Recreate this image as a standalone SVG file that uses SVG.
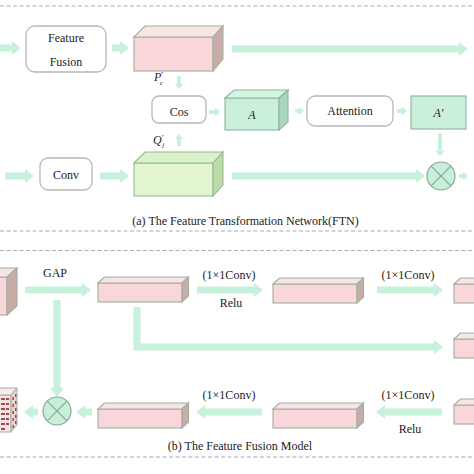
<svg xmlns="http://www.w3.org/2000/svg" xmlns:xlink="http://www.w3.org/1999/xlink" width="474" height="474" viewBox="0 0 474 474">
<style>
text{font-family:"Liberation Serif","Times New Roman",serif;font-size:12px;fill:#222}
.it{font-style:italic}
.dash{stroke:#9fb0b4;stroke-width:1.2;stroke-dasharray:4 2.5;fill:none}
.ar{stroke:#c6f1da;stroke-width:7;fill:none;marker-end:url(#ah)}
.ar2{stroke:#c6f1da;stroke-width:4;fill:none;marker-end:url(#ah2)}
.rb{fill:#fff;stroke:#b8b8b8;stroke-width:1.3}
.pf{fill:#f8d6d9;stroke:#9fb09f;stroke-width:1.1}
.pt{fill:#f7e4e4;stroke:#9fb09f;stroke-width:1.1}
.ps{fill:#c9aca8;stroke:#9fb09f;stroke-width:1.1}
.gf{fill:#e3f6d0;stroke:#97b897;stroke-width:1.1}
.gt{fill:#daf2c9;stroke:#97b897;stroke-width:1.1}
.gs{fill:#bbdca8;stroke:#97b897;stroke-width:1.1}
.mf{fill:#caf0db;stroke:#8fb59f;stroke-width:1.1}
.mt{fill:#d5f4e3;stroke:#8fb59f;stroke-width:1.1}
.ms{fill:#a9d7bc;stroke:#8fb59f;stroke-width:1.1}
.ox{fill:#c8efd9;stroke:#87a897;stroke-width:1.2}
.oxl{stroke:#87a897;stroke-width:1.2}
.dot{fill:#a4494b}
</style>
<defs>
<marker id="ah" markerUnits="userSpaceOnUse" markerWidth="9" markerHeight="14" refX="0" refY="7" orient="auto" viewBox="0 0 9 14"><path d="M0,0 L9,7 L0,14 z" fill="#c6f1da"/></marker>
<marker id="ah2" markerUnits="userSpaceOnUse" markerWidth="5" markerHeight="9" refX="0" refY="4.5" orient="auto" viewBox="0 0 5 9"><path d="M0,0 L5,4.5 L0,9 z" fill="#c6f1da"/></marker>
<g id="flatbox">
<rect class="pf" x="0" y="6" width="84" height="19"/>
<polygon class="pt" points="0,6 6.5,0 90.5,0 84,6"/>
<polygon class="ps" points="84,6 90.5,0 90.5,19 84,25"/>
</g>
</defs>

<!-- dashed separators -->
<g id="separators">
<line class="dash" x1="0" y1="6" x2="474" y2="6"/>
<line class="dash" x1="0" y1="231" x2="474" y2="231"/>
<line class="dash" x1="0" y1="250.5" x2="474" y2="250.5"/>
<line class="dash" x1="0" y1="457" x2="474" y2="457"/>
</g>

<!-- connectors -->
<g id="connectors">
<line class="ar" x1="0" y1="48" x2="12" y2="48"/>
<line class="ar" x1="112" y1="48" x2="120" y2="48"/>
<line class="ar" x1="232" y1="49" x2="459" y2="49"/>
<line class="ar" x1="5" y1="176" x2="25" y2="176"/>
<line class="ar" x1="100" y1="176" x2="120" y2="176"/>
<line class="ar" x1="232" y1="176" x2="416" y2="176"/>
<line class="ar2" x1="179" y1="76" x2="179" y2="84"/>
<line class="ar2" x1="179" y1="146" x2="179" y2="139"/>
<line class="ar2" x1="209" y1="112" x2="215" y2="112"/>
<line class="ar2" x1="295" y1="111" x2="299" y2="111"/>
<line class="ar2" x1="397" y1="111" x2="402" y2="111"/>
<line class="ar2" x1="440" y1="133" x2="440" y2="151"/>
<line class="ar2" x1="459" y1="176" x2="463" y2="176"/>
<!-- (b) -->
<line class="ar" x1="25" y1="290" x2="82" y2="290"/>
<line class="ar" x1="57" y1="300" x2="57" y2="388"/>
<line class="ar" x1="197" y1="290" x2="254" y2="290"/>
<line class="ar" x1="377" y1="290" x2="434" y2="290"/>
<polyline class="ar" points="137,307 137,347 434,347"/>
<line class="ar" x1="442" y1="412" x2="385" y2="412"/>
<line class="ar" x1="262" y1="412" x2="205" y2="412"/>
<line class="ar" x1="92" y1="412" x2="85" y2="412"/>
<line class="ar" x1="38" y1="412" x2="33" y2="412"/>
</g>

<!-- (a) nodes -->
<g id="feature-fusion">
<rect class="rb" x="26" y="26" width="80" height="46" rx="9"/>
<text x="66" y="42" text-anchor="middle">Feature</text>
<text x="66" y="65.5" text-anchor="middle">Fusion</text>
</g>
<g id="pc-cube">
<rect class="pf" x="134" y="37" width="79" height="34"/>
<polygon class="pt" points="134,37 145,26 223,26 213,37"/>
<polygon class="ps" points="213,37 223,26 223,59 213,71"/>
</g>
<g id="pc-label">
<text class="it" x="154" y="81">P<tspan font-style="normal" font-size="9" dy="-3">′</tspan><tspan font-size="7" dx="-3.5" dy="7">c</tspan></text>
</g>
<g id="cos">
<rect class="rb" x="152" y="96" width="54" height="27" rx="7"/>
<text x="179" y="116" text-anchor="middle">Cos</text>
</g>
<g id="a-cube">
<rect class="mf" x="225" y="98" width="54" height="32"/>
<polygon class="mt" points="225,98 234,90 288,90 279,98"/>
<polygon class="ms" points="279,98 288,90 288,122 279,130"/>
<text class="it" x="252" y="119" text-anchor="middle">A</text>
</g>
<g id="attention">
<rect class="rb" x="307" y="96" width="86" height="30" rx="8"/>
<text x="350" y="115" text-anchor="middle">Attention</text>
</g>
<g id="a-prime">
<rect class="mf" x="411" y="96" width="55" height="33"/>
<text class="it" x="438.5" y="117" text-anchor="middle">A′</text>
</g>
<g id="conv">
<rect class="rb" x="40" y="158" width="52" height="32" rx="8"/>
<text x="66" y="179" text-anchor="middle">Conv</text>
</g>
<g id="qj-cube">
<rect class="gf" x="134" y="163" width="79" height="33"/>
<polygon class="gt" points="134,163 145,152 223,152 213,163"/>
<polygon class="gs" points="213,163 223,152 223,185 213,196"/>
</g>
<g id="qj-label">
<text class="it" x="153" y="144">Q<tspan font-style="normal" font-size="9" dy="-3">′</tspan><tspan font-size="7" dx="-1.5" dy="6">j</tspan></text>
</g>
<g id="mult-a">
<circle class="ox" cx="441" cy="176" r="14"/>
<line class="oxl" x1="431.1" y1="166.1" x2="450.9" y2="185.9"/>
<line class="oxl" x1="450.9" y1="166.1" x2="431.1" y2="185.9"/>
</g>
<g id="caption-a">
<text x="245.5" y="225" text-anchor="middle">(a) The Feature Transformation Network(FTN)</text>
</g>

<!-- (b) nodes -->
<g id="input-cube">
<rect class="pf" x="-20" y="277" width="27" height="38"/>
<polygon class="pt" points="-20,277 -10,268 17,268 7,277"/>
<polygon class="ps" points="7,277 17,268 17,306 7,315"/>
</g>
<g id="gap-label"><text x="55" y="277" text-anchor="middle">GAP</text></g>
<g id="box1"><use xlink:href="#flatbox" x="98" y="277"/></g>
<g id="box2"><use xlink:href="#flatbox" x="273" y="278"/></g>
<g id="box3"><use xlink:href="#flatbox" x="454" y="278"/></g>
<g id="box4"><use xlink:href="#flatbox" x="454" y="333"/></g>
<g id="box5"><use xlink:href="#flatbox" x="454" y="399"/></g>
<g id="box6"><use xlink:href="#flatbox" x="273" y="403"/></g>
<g id="box7"><use xlink:href="#flatbox" x="98" y="403"/></g>
<g id="labels-b">
<text x="229" y="279" text-anchor="middle">(1×1Conv)</text>
<text x="231" y="307" text-anchor="middle">Relu</text>
<text x="408" y="279" text-anchor="middle">(1×1Conv)</text>
<text x="408" y="399" text-anchor="middle">(1×1Conv)</text>
<text x="410" y="433" text-anchor="middle">Relu</text>
<text x="229" y="399" text-anchor="middle">(1×1Conv)</text>
</g>
<g id="mult-b">
<circle class="ox" cx="57" cy="411" r="14"/>
<line class="oxl" x1="47.1" y1="401.1" x2="66.9" y2="420.9"/>
<line class="oxl" x1="66.9" y1="401.1" x2="47.1" y2="420.9"/>
</g>
<g id="output-cube">
<rect x="-6" y="395" width="17" height="37" fill="#f6e4e4" stroke="#9fb09f" stroke-width="1"/>
<polygon points="-6,395 0,388 17,388 11,395" fill="#f7ecec" stroke="#9fb09f" stroke-width="1"/>
<polygon points="11,395 17,388 17,425 11,432" fill="#ecd3d3" stroke="#9fb09f" stroke-width="1"/>
<rect class="dot" x="1" y="398" width="4" height="2"/>
<rect class="dot" x="6" y="398" width="3" height="2"/>
<rect class="dot" x="1" y="403" width="4" height="2"/>
<rect class="dot" x="6" y="403" width="3" height="2"/>
<rect class="dot" x="1" y="408" width="4" height="2"/>
<rect class="dot" x="6" y="408" width="3" height="2"/>
<rect class="dot" x="1" y="413" width="4" height="2"/>
<rect class="dot" x="6" y="413" width="3" height="2"/>
<rect class="dot" x="1" y="418" width="4" height="2"/>
<rect class="dot" x="6" y="418" width="3" height="2"/>
<rect class="dot" x="1" y="423" width="4" height="2"/>
<rect class="dot" x="6" y="423" width="3" height="2"/>
<rect class="dot" x="1" y="428" width="4" height="2"/>
<rect class="dot" x="12.5" y="397" width="1.5" height="3"/>
<rect class="dot" x="15" y="394" width="1.5" height="3"/>
<rect class="dot" x="12.5" y="404" width="1.5" height="3"/>
<rect class="dot" x="15" y="401" width="1.5" height="3"/>
<rect class="dot" x="12.5" y="411" width="1.5" height="3"/>
<rect class="dot" x="15" y="408" width="1.5" height="3"/>
<rect class="dot" x="12.5" y="418" width="1.5" height="3"/>
<rect class="dot" x="15" y="415" width="1.5" height="3"/>
<rect class="dot" x="12.5" y="425" width="1.5" height="3"/>
<rect class="dot" x="15" y="421" width="1.5" height="3"/>
</g>
<g id="caption-b">
<text x="240" y="450" text-anchor="middle">(b) The Feature Fusion Model</text>
</g>
</svg>
